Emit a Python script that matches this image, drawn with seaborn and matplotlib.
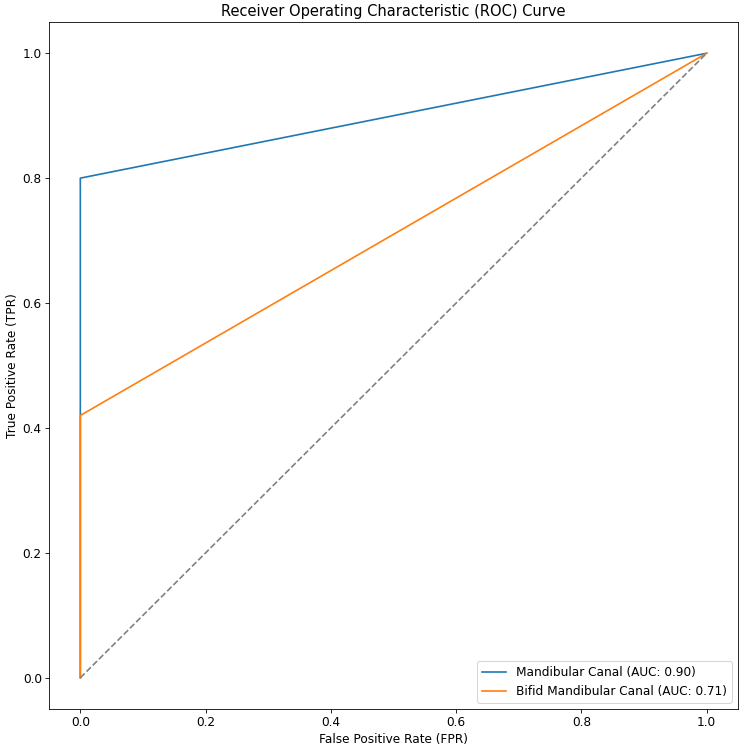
import pandas as pd
import matplotlib
matplotlib.use('Agg')
import matplotlib.pyplot as plt
import seaborn as sns

# ROC points
fpr_canal = [0.0, 0.0, 1.0]
tpr_canal = [0.0, 0.80, 1.0]
fpr_bifid = [0.0, 0.0, 1.0]
tpr_bifid = [0.0, 0.42, 1.0]
auc_canal = 0.90
auc_bifid = 0.71
chance = [0.0, 1.0]

df_canal = pd.DataFrame({'FPR': fpr_canal, 'TPR': tpr_canal})
df_bifid = pd.DataFrame({'FPR': fpr_bifid, 'TPR': tpr_bifid})

plt.rcParams['font.size'] = 11.8

fig, ax = plt.subplots(figsize=(10, 750 / 74.4), dpi=74.4)
sns.lineplot(data=df_canal, x='FPR', y='TPR', sort=False, estimator=None, ax=ax,
             color='#1f77b4', linewidth=1.6,
             label=f'Mandibular Canal (AUC: {auc_canal:.2f})')
sns.lineplot(data=df_bifid, x='FPR', y='TPR', sort=False, estimator=None, ax=ax,
             color='#ff7f0e', linewidth=1.6,
             label=f'Bifid Mandibular Canal (AUC: {auc_bifid:.2f})')
ax.plot(chance, chance, linestyle='--', color='gray', linewidth=1.6)
ax.set_title('Receiver Operating Characteristic (ROC) Curve')
ax.set_xlabel('False Positive Rate (FPR)')
ax.set_ylabel('True Positive Rate (TPR)')
ax.legend(loc='lower right')
fig.subplots_adjust(left=49 / 744, right=738 / 744, top=1 - 22 / 750, bottom=1 - 709 / 750)
plt.savefig('out.png', dpi=74.4)
